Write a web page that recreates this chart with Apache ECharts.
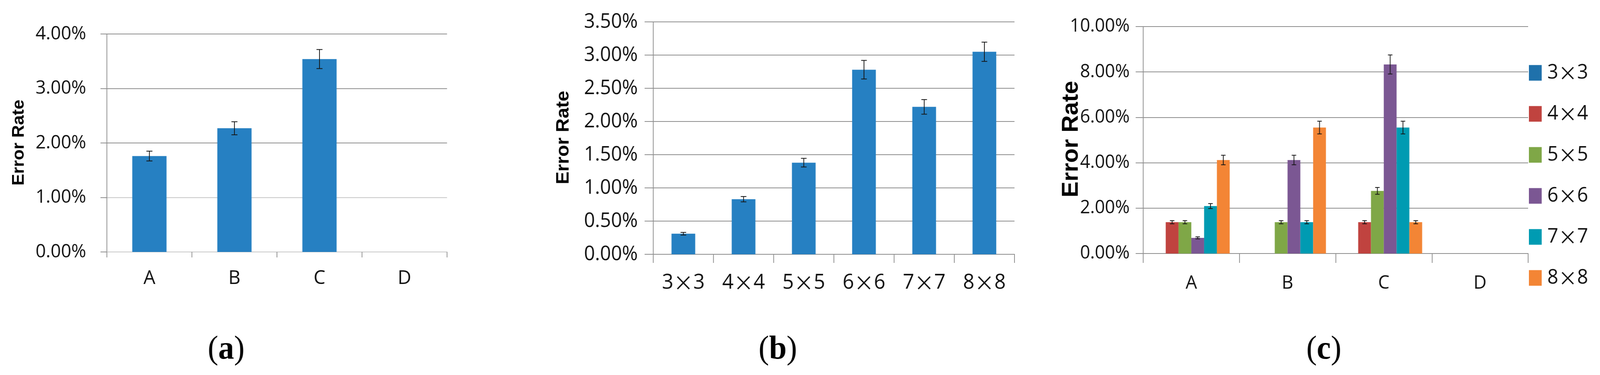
<!DOCTYPE html>
<html>
<head>
<meta charset="utf-8">
<script src="https://cdn.jsdelivr.net/npm/echarts@6/dist/echarts.min.js"></script>
<style>
html,body{margin:0;padding:0;background:#fff;overflow:hidden;}
#chart{width:4252px;height:960px;transform-origin:0 0;}
</style>
</head>
<body>
<div id="chart"></div>
<script>
// ---------- data ----------
const groupCats = ['A', 'B', 'C', 'D'];
const sizeCats = ['3×3', '4×4', '5×5', '6×6', '7×7', '8×8'];

// panel (a)
const aValues = [1.76, 2.27, 3.54, null];
const aErrors = [0.09, 0.12, 0.175, null];

// panel (b)
const bValues = [0.31, 0.83, 1.38, 2.78, 2.22, 3.05];
const bErrors = [0.02, 0.04, 0.065, 0.14, 0.11, 0.145];

// panel (c): one array per grid size, across A..D
const c3x3 = [null, null, null, null];
const c4x4 = [1.38, null, 1.38, null];
const c5x5 = [1.38, 1.38, 2.76, null];
const c6x6 = [0.69, 4.12, 8.33, null];
const c7x7 = [2.09, 1.38, 5.55, null];
const c8x8 = [4.12, 5.55, 1.38, null];
const e3x3 = [null, null, null, null];
const e4x4 = [0.07, null, 0.07, null];
const e5x5 = [0.07, 0.07, 0.15, null];
const e6x6 = [0.045, 0.21, 0.42, null];
const e7x7 = [0.11, 0.07, 0.28, null];
const e8x8 = [0.21, 0.28, 0.07, null];

const aTicks = { min: 0, max: 4, interval: 1 };
const bTicks = { min: 0, max: 3.5, interval: 0.5 };
const cTicks = { min: 0, max: 10, interval: 2 };

// ---------- page fit (viewport may be narrower than the 4252px design) ----------
const DESIGN_W = 4252;
const el = document.getElementById('chart');
const sx = Math.min(1, window.innerWidth / DESIGN_W);
if (sx < 1) el.style.transform = 'scale(' + sx + ',1)';

// ---------- styles ----------
const cValues = [c3x3, c4x4, c5x5, c6x6, c7x7, c8x8];
const cErrors = [e3x3, e4x4, e5x5, e6x6, e7x7, e8x8];
const cColors = ['#1f71ab', '#c0433f', '#7fa747', '#7b5793', '#009bb2', '#f38535'];
const blue = '#2680c2';
const gridGray = '#8e8e8e';
const sans = "'Open Sans', 'Liberation Sans', sans-serif";
const cjk = "'Noto Sans CJK SC', 'Noto Sans CJK JP', sans-serif";
const pct = v => v.toFixed(2) + '%';
const timesRich = s => s.replace('×', '{x|×}');

function errSeries(xi, vals, errs, offset, cap) {
  const data = [];
  vals.forEach((v, i) => { if (v != null && errs[i] != null) data.push([i, v, errs[i]]); });
  return {
    type: 'custom', xAxisIndex: xi, yAxisIndex: xi, data: data, encode: { x: 0, y: 1 },
    z: 10, silent: true,
    renderItem: function (params, api) {
      const i = api.value(0), v = api.value(1), e = api.value(2);
      const t = api.coord([i, v + e]), b = api.coord([i, v - e]);
      const x = t[0] + offset;
      const st = { stroke: '#151515', lineWidth: 2 };
      return {
        type: 'group', children: [
          { type: 'line', shape: { x1: x, y1: t[1], x2: x, y2: b[1] }, style: st },
          { type: 'line', shape: { x1: x - cap, y1: t[1], x2: x + cap, y2: t[1] }, style: st },
          { type: 'line', shape: { x1: x - cap, y1: b[1], x2: x + cap, y2: b[1] }, style: st }
        ]
      };
    }
  };
}

function yAxisCfg(ticks, tickLen, margin, font, size, splitColors) {
  return Object.assign({}, ticks, {
    type: 'value',
    axisLine: { show: true, lineStyle: { color: gridGray, width: 2 } },
    axisTick: { show: true, length: tickLen, lineStyle: { color: gridGray, width: 2 } },
    axisLabel: { formatter: pct, margin: margin, fontFamily: font, fontSize: size, color: '#111' },
    splitLine: { show: true, lineStyle: { color: splitColors || gridGray, width: 2 } }
  });
}
function xAxisCfg(grid, cats, tickLen, margin, font, size, lineColor, rich) {
  return {
    type: 'category', gridIndex: grid, data: cats,
    axisLine: { show: true, lineStyle: { color: lineColor || gridGray, width: 2 } },
    axisTick: { show: true, length: tickLen, interval: 0, alignWithLabel: false, lineStyle: { color: gridGray, width: 2 } },
    axisLabel: Object.assign({ interval: 0, margin: margin, fontFamily: font, fontSize: size, color: '#111' },
      rich ? { formatter: timesRich, rich: rich } : {}),
    splitLine: { show: false }
  };
}

const series = [];
series.push({ type: 'bar', name: 'a', xAxisIndex: 0, yAxisIndex: 0, data: aValues, barWidth: 91, itemStyle: { color: blue } });
series.push(errSeries(0, aValues, aErrors, 0, 8));
series.push({ type: 'bar', name: 'b', xAxisIndex: 1, yAxisIndex: 1, data: bValues, barWidth: 63, itemStyle: { color: blue } });
series.push(errSeries(1, bValues, bErrors, 0, 7.5));
const cBarW = 34;
sizeCats.forEach((name, k) => {
  series.push({ type: 'bar', name: name, xAxisIndex: 2, yAxisIndex: 2, data: cValues[k],
    barWidth: cBarW, barGap: '0%', itemStyle: { color: cColors[k] } });
});
sizeCats.forEach((name, k) => {
  series.push(errSeries(2, cValues[k], cErrors[k], (k - (sizeCats.length - 1) / 2) * cBarW, 6));
});

const labelFont = "'Liberation Serif', 'DejaVu Serif', serif";
function panelLabel(x, letter) {
  return { type: 'text', x: x, y: 896, style: {
    text: '(' + '{b|' + letter + '}' + ')', align: 'center', verticalAlign: 'middle',
    fontFamily: labelFont, fontSize: 84, fill: '#000',
    rich: { b: { fontFamily: labelFont, fontSize: 84, fontWeight: 'bold', fill: '#000' } } } };
}
function yName(x, y, size) {
  return { type: 'text', x: x, y: y, rotation: Math.PI / 2, style: {
    text: 'Error Rate', align: 'center', verticalAlign: 'middle',
    fontFamily: "'Liberation Sans', Arial, sans-serif", fontWeight: 'bold', fontSize: size, fill: '#000' } };
}

const option = {
  backgroundColor: '#fff',
  animation: false,
  grid: [
    { left: 284, top: 87, width: 904, height: 558 },
    { left: 1736, top: 56, width: 960, height: 595 },
    { left: 3038, top: 68, width: 1023, height: 581 }
  ],
  xAxis: [
    xAxisCfg(0, groupCats, 14, 43, sans, 50, '#c8c8c8'),
    xAxisCfg(1, sizeCats, 22, 46, sans, 53, null, { x: { fontFamily: cjk, fontSize: 53, color: '#111' } }),
    xAxisCfg(2, groupCats, 24, 52, sans, 48)
  ],
  yAxis: [
    Object.assign(yAxisCfg(aTicks, 17, 55, sans, 48, ['#c8c8c8', '#c8c8c8', gridGray, gridGray, gridGray]), { gridIndex: 0 }),
    Object.assign(yAxisCfg(bTicks, 23, 41, sans, 51), { gridIndex: 1 }),
    Object.assign(yAxisCfg(cTicks, 20, 36, sans, 47), { gridIndex: 2 })
  ],
  legend: {
    data: sizeCats, orient: 'vertical', left: 4058, top: 156,
    icon: 'rect', itemWidth: 34, itemHeight: 40, itemGap: 54,
    formatter: timesRich,
    textStyle: { fontFamily: sans, fontSize: 51, lineHeight: 40, color: '#111', padding: [0, 0, 0, 10],
      rich: { x: { fontFamily: cjk, fontSize: 50, lineHeight: 40, color: '#111' } } },
    selectedMode: false
  },
  series: series,
  graphic: [
    yName(51, 365, 45),
    yName(1497, 352, 49),
    yName(2847, 356, 61),
    panelLabel(601, 'a'),
    panelLabel(2067, 'b'),
    panelLabel(3518, 'c')
  ]
};

const chart = echarts.init(el, null, { renderer: 'canvas', width: DESIGN_W, height: 960 });
chart.setOption(option);
</script>
</body>
</html>
